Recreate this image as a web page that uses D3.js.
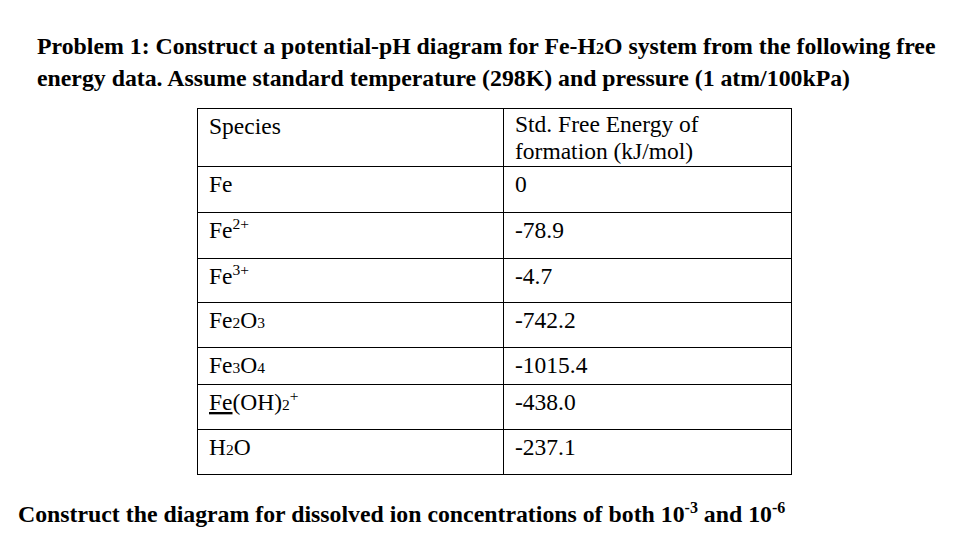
<!DOCTYPE html>
<html><head><meta charset="utf-8">
<script src="https://cdn.jsdelivr.net/npm/d3@7"></script>
<style>body{margin:0;background:#fff}text{font-family:"Liberation Serif","Times New Roman",serif;fill:#000}</style>
</head><body><svg id="c" width="970" height="544"></svg>
<script>
// Data
const header = ["Species", ["Std. Free Energy of", "formation (kJ/mol)"]];
const species = [
  [["Fe","n"]],
  [["Fe","n"],["2+","sup"]],
  [["Fe","n"],["3+","sup"]],
  [["Fe","n"],["2","sub"],["O","n"],["3","sub"]],
  [["Fe","n"],["3","sub"],["O","n"],["4","sub"]],
  [["Fe","u"],["(OH)","n"],["2","sub"],["+","sup"]],
  [["H","n"],["2","sub"],["O","n"]]
];
const energies = ["0","-78.9","-4.7","-742.2","-1015.4","-438.0","-237.1"];

// Layout
const svg = d3.select("#c");
const rowLines = [108,166,212,258,302,347,384,429,474];
const x = d3.scaleOrdinal().domain(["left","mid","right"]).range([197,503,791]);
const fs = 23.5, tfs = 23.8;

function rich(t, segs, big, small){
  let cur=0;
  segs.forEach(([s,m])=>{
    const sp=t.append("tspan").text(s);
    const target = m==="sup"?-9:0;
    if(m==="sub"||m==="sup") sp.attr("font-size",small);
    if(m==="u") sp.attr("text-decoration","underline").attr("fill","#000");
    sp.attr("dy",target-cur); cur=target;
  });
}

const t1 = svg.append("text").attr("x",37).attr("y",54).attr("font-weight","bold").attr("font-size",tfs);
rich(t1,[["Problem 1: Construct a potential-pH diagram for Fe-H","n"],["2","sub"],["O system from the following free","n"]],tfs,16);
svg.append("text").attr("x",37).attr("y",86).attr("font-weight","bold").attr("font-size",tfs)
  .text("energy data. Assume standard temperature (298K) and pressure (1 atm/100kPa)");

const g = svg.append("g").attr("stroke","#000").attr("stroke-width",1);
rowLines.forEach(y=>g.append("line").attr("x1",x("left")).attr("x2",x("right")+1).attr("y1",y+0.5).attr("y2",y+0.5));
["left","mid","right"].forEach(k=>g.append("line").attr("x1",x(k)+0.5).attr("x2",x(k)+0.5).attr("y1",rowLines[0]).attr("y2",rowLines[rowLines.length-1]+1));

svg.append("text").attr("x",x("left")+12).attr("y",rowLines[0]+26).attr("font-size",fs).text(header[0]);
header[1].forEach((t,i)=>svg.append("text").attr("x",x("mid")+12).attr("y",rowLines[0]+24+i*27).attr("font-size",fs).text(t));

species.forEach((segs,i)=>{
  const y = rowLines[i+1]+26;
  const t = svg.append("text").attr("x",x("left")+12).attr("y",y).attr("font-size",fs);
  rich(t,segs,fs,15.5);
  svg.append("text").attr("x",x("mid")+12).attr("y",y).attr("font-size",fs).text(energies[i]);
});

const b = svg.append("text").attr("x",18).attr("y",522).attr("font-weight","bold").attr("font-size",tfs);
rich(b,[["Construct the diagram for dissolved ion concentrations of both 10","n"],["-3","sup"],[" and 10","n"],["-6","sup"]],tfs,16);
</script></body></html>
